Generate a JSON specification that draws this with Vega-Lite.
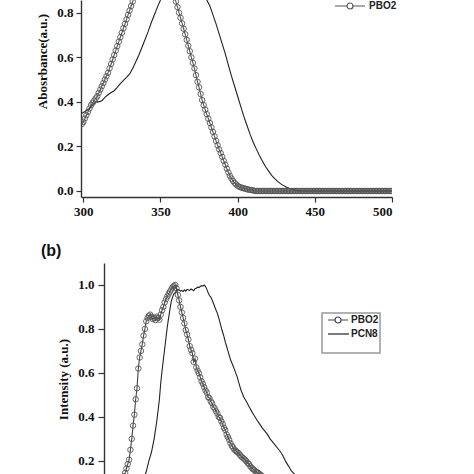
{
  "$schema": "https://vega.github.io/schema/vega-lite/v6.json",
  "background": "white",
  "padding": {"left": 36, "top": 0, "right": 5, "bottom": 0},
  "bounds": "flush",
  "spacing": 66,
  "config": {
    "view": {"stroke": null},
    "axis": {
      "labelFont": "Liberation Serif", "labelFontWeight": "bold", "labelFontSize": 13, "labelColor": "#111",
      "titleFont": "Liberation Serif", "titleFontWeight": "bold", "titleFontSize": 13, "titleColor": "#111",
      "domainColor": "#333", "domainWidth": 1.4, "tickColor": "#333", "tickWidth": 1.2, "grid": false
    }
  },
  "resolve": {"scale": {"color": "independent"}},
  "datasets": {
    "abs": [
      {"wl":299,"val":0.30,"sample":"PBO2"},{"wl":300,"val":0.31,"sample":"PBO2"},{"wl":301,"val":0.325,"sample":"PBO2"},{"wl":302,"val":0.34,"sample":"PBO2"},{"wl":303,"val":0.355,"sample":"PBO2"},{"wl":304,"val":0.37,"sample":"PBO2"},{"wl":305,"val":0.385,"sample":"PBO2"},{"wl":306,"val":0.395,"sample":"PBO2"},{"wl":307,"val":0.405,"sample":"PBO2"},{"wl":308,"val":0.415,"sample":"PBO2"},{"wl":309,"val":0.425,"sample":"PBO2"},{"wl":310,"val":0.44,"sample":"PBO2"},{"wl":311,"val":0.455,"sample":"PBO2"},{"wl":312,"val":0.47,"sample":"PBO2"},{"wl":313,"val":0.485,"sample":"PBO2"},{"wl":314,"val":0.50,"sample":"PBO2"},{"wl":315,"val":0.515,"sample":"PBO2"},{"wl":316,"val":0.53,"sample":"PBO2"},{"wl":317,"val":0.55,"sample":"PBO2"},{"wl":318,"val":0.57,"sample":"PBO2"},{"wl":319,"val":0.59,"sample":"PBO2"},{"wl":320,"val":0.61,"sample":"PBO2"},{"wl":321,"val":0.63,"sample":"PBO2"},{"wl":322,"val":0.65,"sample":"PBO2"},{"wl":323,"val":0.67,"sample":"PBO2"},{"wl":324,"val":0.69,"sample":"PBO2"},{"wl":325,"val":0.71,"sample":"PBO2"},{"wl":326,"val":0.73,"sample":"PBO2"},{"wl":327,"val":0.75,"sample":"PBO2"},{"wl":328,"val":0.77,"sample":"PBO2"},{"wl":329,"val":0.79,"sample":"PBO2"},{"wl":330,"val":0.81,"sample":"PBO2"},{"wl":331,"val":0.83,"sample":"PBO2"},{"wl":332,"val":0.85,"sample":"PBO2"},{"wl":333,"val":0.87,"sample":"PBO2"},{"wl":334,"val":0.89,"sample":"PBO2"},{"wl":335,"val":0.905,"sample":"PBO2"},{"wl":336,"val":0.92,"sample":"PBO2"},{"wl":337,"val":0.935,"sample":"PBO2"},{"wl":338,"val":0.95,"sample":"PBO2"},{"wl":339,"val":0.96,"sample":"PBO2"},{"wl":340,"val":0.97,"sample":"PBO2"},{"wl":341,"val":0.98,"sample":"PBO2"},{"wl":342,"val":0.987,"sample":"PBO2"},{"wl":343,"val":0.993,"sample":"PBO2"},{"wl":344,"val":0.997,"sample":"PBO2"},{"wl":345,"val":1.0,"sample":"PBO2"},{"wl":346,"val":1.0,"sample":"PBO2"},{"wl":347,"val":0.998,"sample":"PBO2"},{"wl":348,"val":0.995,"sample":"PBO2"},{"wl":349,"val":0.99,"sample":"PBO2"},{"wl":350,"val":0.982,"sample":"PBO2"},{"wl":351,"val":0.972,"sample":"PBO2"},{"wl":352,"val":0.96,"sample":"PBO2"},{"wl":353,"val":0.948,"sample":"PBO2"},{"wl":354,"val":0.94,"sample":"PBO2"},{"wl":355,"val":0.93,"sample":"PBO2"},{"wl":356,"val":0.915,"sample":"PBO2"},{"wl":357,"val":0.90,"sample":"PBO2"},{"wl":358,"val":0.885,"sample":"PBO2"},{"wl":359,"val":0.87,"sample":"PBO2"},{"wl":360,"val":0.85,"sample":"PBO2"},{"wl":361,"val":0.825,"sample":"PBO2"},{"wl":362,"val":0.80,"sample":"PBO2"},{"wl":363,"val":0.777,"sample":"PBO2"},{"wl":364,"val":0.752,"sample":"PBO2"},{"wl":365,"val":0.728,"sample":"PBO2"},{"wl":366,"val":0.703,"sample":"PBO2"},{"wl":367,"val":0.678,"sample":"PBO2"},{"wl":368,"val":0.652,"sample":"PBO2"},{"wl":369,"val":0.627,"sample":"PBO2"},{"wl":370,"val":0.60,"sample":"PBO2"},{"wl":371,"val":0.575,"sample":"PBO2"},{"wl":372,"val":0.55,"sample":"PBO2"},{"wl":373,"val":0.52,"sample":"PBO2"},{"wl":374,"val":0.49,"sample":"PBO2"},{"wl":375,"val":0.465,"sample":"PBO2"},{"wl":376,"val":0.435,"sample":"PBO2"},{"wl":377,"val":0.408,"sample":"PBO2"},{"wl":378,"val":0.385,"sample":"PBO2"},{"wl":379,"val":0.365,"sample":"PBO2"},{"wl":380,"val":0.345,"sample":"PBO2"},{"wl":381,"val":0.325,"sample":"PBO2"},{"wl":382,"val":0.305,"sample":"PBO2"},{"wl":383,"val":0.285,"sample":"PBO2"},{"wl":384,"val":0.265,"sample":"PBO2"},{"wl":385,"val":0.245,"sample":"PBO2"},{"wl":386,"val":0.225,"sample":"PBO2"},{"wl":387,"val":0.205,"sample":"PBO2"},{"wl":388,"val":0.187,"sample":"PBO2"},{"wl":389,"val":0.17,"sample":"PBO2"},{"wl":390,"val":0.153,"sample":"PBO2"},{"wl":391,"val":0.135,"sample":"PBO2"},{"wl":392,"val":0.118,"sample":"PBO2"},{"wl":393,"val":0.10,"sample":"PBO2"},{"wl":394,"val":0.083,"sample":"PBO2"},{"wl":395,"val":0.068,"sample":"PBO2"},{"wl":396,"val":0.056,"sample":"PBO2"},{"wl":397,"val":0.045,"sample":"PBO2"},{"wl":398,"val":0.036,"sample":"PBO2"},{"wl":399,"val":0.029,"sample":"PBO2"},{"wl":400,"val":0.023,"sample":"PBO2"},{"wl":401,"val":0.019,"sample":"PBO2"},{"wl":402,"val":0.016,"sample":"PBO2"},{"wl":403,"val":0.014,"sample":"PBO2"},{"wl":404,"val":0.012,"sample":"PBO2"},{"wl":405,"val":0.010,"sample":"PBO2"},{"wl":406,"val":0.008,"sample":"PBO2"},{"wl":407,"val":0.006,"sample":"PBO2"},{"wl":408,"val":0.005,"sample":"PBO2"},{"wl":409,"val":0.004,"sample":"PBO2"},{"wl":410,"val":0.003,"sample":"PBO2"},
      {"wl":411,"val":0,"sample":"PBO2"},{"wl":412,"val":0,"sample":"PBO2"},{"wl":413,"val":0,"sample":"PBO2"},{"wl":414,"val":0,"sample":"PBO2"},{"wl":415,"val":0,"sample":"PBO2"},{"wl":416,"val":0,"sample":"PBO2"},{"wl":417,"val":0,"sample":"PBO2"},{"wl":418,"val":0,"sample":"PBO2"},{"wl":419,"val":0,"sample":"PBO2"},{"wl":420,"val":0,"sample":"PBO2"},{"wl":421,"val":0,"sample":"PBO2"},{"wl":422,"val":0,"sample":"PBO2"},{"wl":423,"val":0,"sample":"PBO2"},{"wl":424,"val":0,"sample":"PBO2"},{"wl":425,"val":0,"sample":"PBO2"},{"wl":426,"val":0,"sample":"PBO2"},{"wl":427,"val":0,"sample":"PBO2"},{"wl":428,"val":0,"sample":"PBO2"},{"wl":429,"val":0,"sample":"PBO2"},{"wl":430,"val":0,"sample":"PBO2"},{"wl":431,"val":0,"sample":"PBO2"},{"wl":432,"val":0,"sample":"PBO2"},{"wl":433,"val":0,"sample":"PBO2"},{"wl":434,"val":0,"sample":"PBO2"},{"wl":435,"val":0,"sample":"PBO2"},{"wl":436,"val":0,"sample":"PBO2"},{"wl":437,"val":0,"sample":"PBO2"},{"wl":438,"val":0,"sample":"PBO2"},{"wl":439,"val":0,"sample":"PBO2"},{"wl":440,"val":0,"sample":"PBO2"},{"wl":441,"val":0,"sample":"PBO2"},{"wl":442,"val":0,"sample":"PBO2"},{"wl":443,"val":0,"sample":"PBO2"},{"wl":444,"val":0,"sample":"PBO2"},{"wl":445,"val":0,"sample":"PBO2"},{"wl":446,"val":0,"sample":"PBO2"},{"wl":447,"val":0,"sample":"PBO2"},{"wl":448,"val":0,"sample":"PBO2"},{"wl":449,"val":0,"sample":"PBO2"},{"wl":450,"val":0,"sample":"PBO2"},{"wl":451,"val":0,"sample":"PBO2"},{"wl":452,"val":0,"sample":"PBO2"},{"wl":453,"val":0,"sample":"PBO2"},{"wl":454,"val":0,"sample":"PBO2"},{"wl":455,"val":0,"sample":"PBO2"},{"wl":456,"val":0,"sample":"PBO2"},{"wl":457,"val":0,"sample":"PBO2"},{"wl":458,"val":0,"sample":"PBO2"},{"wl":459,"val":0,"sample":"PBO2"},{"wl":460,"val":0,"sample":"PBO2"},{"wl":461,"val":0,"sample":"PBO2"},{"wl":462,"val":0,"sample":"PBO2"},{"wl":463,"val":0,"sample":"PBO2"},{"wl":464,"val":0,"sample":"PBO2"},{"wl":465,"val":0,"sample":"PBO2"},{"wl":466,"val":0,"sample":"PBO2"},{"wl":467,"val":0,"sample":"PBO2"},{"wl":468,"val":0,"sample":"PBO2"},{"wl":469,"val":0,"sample":"PBO2"},{"wl":470,"val":0,"sample":"PBO2"},{"wl":471,"val":0,"sample":"PBO2"},{"wl":472,"val":0,"sample":"PBO2"},{"wl":473,"val":0,"sample":"PBO2"},{"wl":474,"val":0,"sample":"PBO2"},{"wl":475,"val":0,"sample":"PBO2"},{"wl":476,"val":0,"sample":"PBO2"},{"wl":477,"val":0,"sample":"PBO2"},{"wl":478,"val":0,"sample":"PBO2"},{"wl":479,"val":0,"sample":"PBO2"},{"wl":480,"val":0,"sample":"PBO2"},{"wl":481,"val":0,"sample":"PBO2"},{"wl":482,"val":0,"sample":"PBO2"},{"wl":483,"val":0,"sample":"PBO2"},{"wl":484,"val":0,"sample":"PBO2"},{"wl":485,"val":0,"sample":"PBO2"},{"wl":486,"val":0,"sample":"PBO2"},{"wl":487,"val":0,"sample":"PBO2"},{"wl":488,"val":0,"sample":"PBO2"},{"wl":489,"val":0,"sample":"PBO2"},{"wl":490,"val":0,"sample":"PBO2"},{"wl":491,"val":0,"sample":"PBO2"},{"wl":492,"val":0,"sample":"PBO2"},{"wl":493,"val":0,"sample":"PBO2"},{"wl":494,"val":0,"sample":"PBO2"},{"wl":495,"val":0,"sample":"PBO2"},{"wl":496,"val":0,"sample":"PBO2"},{"wl":497,"val":0,"sample":"PBO2"},{"wl":498,"val":0,"sample":"PBO2"},{"wl":499,"val":0,"sample":"PBO2"},{"wl":500,"val":0,"sample":"PBO2"},
      {"wl":299,"val":0.35,"sample":"PCN8"},{"wl":300,"val":0.352,"sample":"PCN8"},{"wl":302,"val":0.36,"sample":"PCN8"},{"wl":304,"val":0.37,"sample":"PCN8"},{"wl":306,"val":0.385,"sample":"PCN8"},{"wl":308,"val":0.40,"sample":"PCN8"},{"wl":310,"val":0.40,"sample":"PCN8"},{"wl":312,"val":0.405,"sample":"PCN8"},{"wl":314,"val":0.42,"sample":"PCN8"},{"wl":316,"val":0.432,"sample":"PCN8"},{"wl":318,"val":0.442,"sample":"PCN8"},{"wl":320,"val":0.45,"sample":"PCN8"},{"wl":322,"val":0.465,"sample":"PCN8"},{"wl":324,"val":0.482,"sample":"PCN8"},{"wl":326,"val":0.496,"sample":"PCN8"},{"wl":328,"val":0.51,"sample":"PCN8"},{"wl":330,"val":0.525,"sample":"PCN8"},{"wl":332,"val":0.55,"sample":"PCN8"},{"wl":334,"val":0.58,"sample":"PCN8"},{"wl":336,"val":0.61,"sample":"PCN8"},{"wl":338,"val":0.645,"sample":"PCN8"},{"wl":340,"val":0.68,"sample":"PCN8"},{"wl":342,"val":0.715,"sample":"PCN8"},{"wl":344,"val":0.755,"sample":"PCN8"},{"wl":346,"val":0.79,"sample":"PCN8"},{"wl":348,"val":0.825,"sample":"PCN8"},{"wl":350,"val":0.857,"sample":"PCN8"},{"wl":352,"val":0.89,"sample":"PCN8"},{"wl":354,"val":0.92,"sample":"PCN8"},{"wl":356,"val":0.945,"sample":"PCN8"},{"wl":358,"val":0.965,"sample":"PCN8"},{"wl":360,"val":0.98,"sample":"PCN8"},{"wl":362,"val":0.99,"sample":"PCN8"},{"wl":364,"val":0.997,"sample":"PCN8"},{"wl":366,"val":1.0,"sample":"PCN8"},{"wl":368,"val":0.997,"sample":"PCN8"},{"wl":370,"val":0.99,"sample":"PCN8"},{"wl":372,"val":0.975,"sample":"PCN8"},{"wl":374,"val":0.955,"sample":"PCN8"},{"wl":376,"val":0.93,"sample":"PCN8"},{"wl":378,"val":0.895,"sample":"PCN8"},{"wl":380,"val":0.857,"sample":"PCN8"},{"wl":382,"val":0.83,"sample":"PCN8"},{"wl":384,"val":0.79,"sample":"PCN8"},{"wl":386,"val":0.75,"sample":"PCN8"},{"wl":388,"val":0.705,"sample":"PCN8"},{"wl":390,"val":0.66,"sample":"PCN8"},{"wl":392,"val":0.615,"sample":"PCN8"},{"wl":394,"val":0.565,"sample":"PCN8"},{"wl":396,"val":0.515,"sample":"PCN8"},{"wl":398,"val":0.47,"sample":"PCN8"},{"wl":400,"val":0.425,"sample":"PCN8"},{"wl":402,"val":0.38,"sample":"PCN8"},{"wl":404,"val":0.335,"sample":"PCN8"},{"wl":406,"val":0.295,"sample":"PCN8"},{"wl":408,"val":0.255,"sample":"PCN8"},{"wl":410,"val":0.22,"sample":"PCN8"},{"wl":412,"val":0.19,"sample":"PCN8"},{"wl":414,"val":0.16,"sample":"PCN8"},{"wl":416,"val":0.135,"sample":"PCN8"},{"wl":418,"val":0.11,"sample":"PCN8"},{"wl":420,"val":0.09,"sample":"PCN8"},{"wl":422,"val":0.07,"sample":"PCN8"},{"wl":424,"val":0.055,"sample":"PCN8"},{"wl":426,"val":0.042,"sample":"PCN8"},{"wl":428,"val":0.032,"sample":"PCN8"},{"wl":430,"val":0.023,"sample":"PCN8"},{"wl":432,"val":0.016,"sample":"PCN8"},{"wl":434,"val":0.01,"sample":"PCN8"},{"wl":436,"val":0.006,"sample":"PCN8"},{"wl":438,"val":0.003,"sample":"PCN8"},{"wl":440,"val":0,"sample":"PCN8"},{"wl":450,"val":0,"sample":"PCN8"},{"wl":460,"val":0,"sample":"PCN8"},{"wl":470,"val":0,"sample":"PCN8"},{"wl":480,"val":0,"sample":"PCN8"},{"wl":490,"val":0,"sample":"PCN8"},{"wl":500,"val":0,"sample":"PCN8"}
    ],
    "pl": [
      {"wl":392,"val":0.09,"sample":"PBO2"},{"wl":393,"val":0.10,"sample":"PBO2"},{"wl":394,"val":0.115,"sample":"PBO2"},{"wl":395,"val":0.13,"sample":"PBO2"},{"wl":396,"val":0.145,"sample":"PBO2"},{"wl":397,"val":0.165,"sample":"PBO2"},{"wl":398,"val":0.185,"sample":"PBO2"},{"wl":399,"val":0.205,"sample":"PBO2"},{"wl":400,"val":0.25,"sample":"PBO2"},{"wl":401,"val":0.30,"sample":"PBO2"},{"wl":402,"val":0.36,"sample":"PBO2"},{"wl":403,"val":0.41,"sample":"PBO2"},{"wl":404,"val":0.48,"sample":"PBO2"},{"wl":405,"val":0.53,"sample":"PBO2"},{"wl":406,"val":0.62,"sample":"PBO2"},{"wl":407,"val":0.67,"sample":"PBO2"},{"wl":408,"val":0.70,"sample":"PBO2"},{"wl":409,"val":0.73,"sample":"PBO2"},{"wl":410,"val":0.77,"sample":"PBO2"},{"wl":411,"val":0.80,"sample":"PBO2"},{"wl":412,"val":0.835,"sample":"PBO2"},{"wl":413,"val":0.85,"sample":"PBO2"},{"wl":414,"val":0.86,"sample":"PBO2"},{"wl":415,"val":0.865,"sample":"PBO2"},{"wl":416,"val":0.855,"sample":"PBO2"},{"wl":417,"val":0.845,"sample":"PBO2"},{"wl":418,"val":0.85,"sample":"PBO2"},{"wl":419,"val":0.84,"sample":"PBO2"},{"wl":420,"val":0.856,"sample":"PBO2"},{"wl":421,"val":0.85,"sample":"PBO2"},{"wl":422,"val":0.842,"sample":"PBO2"},{"wl":423,"val":0.865,"sample":"PBO2"},{"wl":424,"val":0.885,"sample":"PBO2"},{"wl":425,"val":0.90,"sample":"PBO2"},{"wl":426,"val":0.92,"sample":"PBO2"},{"wl":427,"val":0.935,"sample":"PBO2"},{"wl":428,"val":0.948,"sample":"PBO2"},{"wl":429,"val":0.96,"sample":"PBO2"},{"wl":430,"val":0.97,"sample":"PBO2"},{"wl":431,"val":0.98,"sample":"PBO2"},{"wl":432,"val":0.99,"sample":"PBO2"},{"wl":433,"val":0.995,"sample":"PBO2"},{"wl":434,"val":1.0,"sample":"PBO2"},{"wl":435,"val":0.985,"sample":"PBO2"},{"wl":436,"val":0.955,"sample":"PBO2"},{"wl":437,"val":0.93,"sample":"PBO2"},{"wl":438,"val":0.90,"sample":"PBO2"},{"wl":439,"val":0.875,"sample":"PBO2"},{"wl":440,"val":0.85,"sample":"PBO2"},{"wl":441,"val":0.825,"sample":"PBO2"},{"wl":442,"val":0.795,"sample":"PBO2"},{"wl":443,"val":0.775,"sample":"PBO2"},{"wl":444,"val":0.752,"sample":"PBO2"},{"wl":445,"val":0.722,"sample":"PBO2"},{"wl":446,"val":0.705,"sample":"PBO2"},{"wl":447,"val":0.69,"sample":"PBO2"},{"wl":448,"val":0.65,"sample":"PBO2"},{"wl":449,"val":0.665,"sample":"PBO2"},{"wl":450,"val":0.625,"sample":"PBO2"},{"wl":451,"val":0.61,"sample":"PBO2"},{"wl":452,"val":0.598,"sample":"PBO2"},{"wl":453,"val":0.58,"sample":"PBO2"},{"wl":454,"val":0.562,"sample":"PBO2"},{"wl":455,"val":0.55,"sample":"PBO2"},{"wl":456,"val":0.535,"sample":"PBO2"},{"wl":457,"val":0.52,"sample":"PBO2"},{"wl":458,"val":0.51,"sample":"PBO2"},{"wl":459,"val":0.49,"sample":"PBO2"},{"wl":460,"val":0.485,"sample":"PBO2"},{"wl":461,"val":0.47,"sample":"PBO2"},{"wl":462,"val":0.462,"sample":"PBO2"},{"wl":463,"val":0.445,"sample":"PBO2"},{"wl":464,"val":0.438,"sample":"PBO2"},{"wl":465,"val":0.425,"sample":"PBO2"},{"wl":466,"val":0.415,"sample":"PBO2"},{"wl":467,"val":0.40,"sample":"PBO2"},{"wl":468,"val":0.395,"sample":"PBO2"},{"wl":469,"val":0.38,"sample":"PBO2"},{"wl":470,"val":0.368,"sample":"PBO2"},{"wl":471,"val":0.35,"sample":"PBO2"},{"wl":472,"val":0.34,"sample":"PBO2"},{"wl":473,"val":0.32,"sample":"PBO2"},{"wl":474,"val":0.308,"sample":"PBO2"},{"wl":475,"val":0.295,"sample":"PBO2"},{"wl":476,"val":0.28,"sample":"PBO2"},{"wl":477,"val":0.268,"sample":"PBO2"},{"wl":478,"val":0.26,"sample":"PBO2"},{"wl":479,"val":0.25,"sample":"PBO2"},{"wl":480,"val":0.245,"sample":"PBO2"},{"wl":481,"val":0.24,"sample":"PBO2"},{"wl":482,"val":0.235,"sample":"PBO2"},{"wl":483,"val":0.228,"sample":"PBO2"},{"wl":484,"val":0.22,"sample":"PBO2"},{"wl":485,"val":0.215,"sample":"PBO2"},{"wl":486,"val":0.21,"sample":"PBO2"},{"wl":487,"val":0.205,"sample":"PBO2"},{"wl":488,"val":0.198,"sample":"PBO2"},{"wl":489,"val":0.19,"sample":"PBO2"},{"wl":490,"val":0.185,"sample":"PBO2"},{"wl":491,"val":0.175,"sample":"PBO2"},{"wl":492,"val":0.168,"sample":"PBO2"},{"wl":493,"val":0.162,"sample":"PBO2"},{"wl":494,"val":0.158,"sample":"PBO2"},{"wl":495,"val":0.152,"sample":"PBO2"},{"wl":496,"val":0.148,"sample":"PBO2"},{"wl":497,"val":0.145,"sample":"PBO2"},{"wl":498,"val":0.14,"sample":"PBO2"},{"wl":499,"val":0.135,"sample":"PBO2"},{"wl":500,"val":0.13,"sample":"PBO2"},{"wl":502,"val":0.12,"sample":"PBO2"},{"wl":504,"val":0.11,"sample":"PBO2"},
      {"wl":405,"val":0.06,"sample":"PCN8"},{"wl":408,"val":0.09,"sample":"PCN8"},{"wl":410,"val":0.12,"sample":"PCN8"},{"wl":412,"val":0.15,"sample":"PCN8"},{"wl":414,"val":0.20,"sample":"PCN8"},{"wl":416,"val":0.24,"sample":"PCN8"},{"wl":418,"val":0.30,"sample":"PCN8"},{"wl":420,"val":0.38,"sample":"PCN8"},{"wl":422,"val":0.48,"sample":"PCN8"},{"wl":423,"val":0.553,"sample":"PCN8"},{"wl":424,"val":0.61,"sample":"PCN8"},{"wl":425,"val":0.66,"sample":"PCN8"},{"wl":426,"val":0.71,"sample":"PCN8"},{"wl":427,"val":0.76,"sample":"PCN8"},{"wl":428,"val":0.81,"sample":"PCN8"},{"wl":429,"val":0.85,"sample":"PCN8"},{"wl":430,"val":0.89,"sample":"PCN8"},{"wl":431,"val":0.925,"sample":"PCN8"},{"wl":432,"val":0.945,"sample":"PCN8"},{"wl":433,"val":0.96,"sample":"PCN8"},{"wl":434,"val":0.965,"sample":"PCN8"},{"wl":435,"val":0.975,"sample":"PCN8"},{"wl":436,"val":0.98,"sample":"PCN8"},{"wl":437,"val":0.977,"sample":"PCN8"},{"wl":438,"val":0.972,"sample":"PCN8"},{"wl":439,"val":0.975,"sample":"PCN8"},{"wl":440,"val":0.97,"sample":"PCN8"},{"wl":441,"val":0.978,"sample":"PCN8"},{"wl":442,"val":0.972,"sample":"PCN8"},{"wl":443,"val":0.98,"sample":"PCN8"},{"wl":444,"val":0.977,"sample":"PCN8"},{"wl":445,"val":0.975,"sample":"PCN8"},{"wl":446,"val":0.982,"sample":"PCN8"},{"wl":447,"val":0.978,"sample":"PCN8"},{"wl":448,"val":0.974,"sample":"PCN8"},{"wl":449,"val":0.983,"sample":"PCN8"},{"wl":450,"val":0.985,"sample":"PCN8"},{"wl":451,"val":0.99,"sample":"PCN8"},{"wl":452,"val":0.988,"sample":"PCN8"},{"wl":453,"val":0.993,"sample":"PCN8"},{"wl":454,"val":0.997,"sample":"PCN8"},{"wl":455,"val":0.995,"sample":"PCN8"},{"wl":456,"val":1.0,"sample":"PCN8"},{"wl":457,"val":0.993,"sample":"PCN8"},{"wl":458,"val":0.98,"sample":"PCN8"},{"wl":459,"val":0.965,"sample":"PCN8"},{"wl":460,"val":0.952,"sample":"PCN8"},{"wl":461,"val":0.945,"sample":"PCN8"},{"wl":462,"val":0.932,"sample":"PCN8"},{"wl":463,"val":0.917,"sample":"PCN8"},{"wl":464,"val":0.90,"sample":"PCN8"},{"wl":465,"val":0.885,"sample":"PCN8"},{"wl":466,"val":0.871,"sample":"PCN8"},{"wl":467,"val":0.85,"sample":"PCN8"},{"wl":468,"val":0.83,"sample":"PCN8"},{"wl":469,"val":0.805,"sample":"PCN8"},{"wl":470,"val":0.785,"sample":"PCN8"},{"wl":471,"val":0.765,"sample":"PCN8"},{"wl":472,"val":0.74,"sample":"PCN8"},{"wl":473,"val":0.72,"sample":"PCN8"},{"wl":474,"val":0.70,"sample":"PCN8"},{"wl":475,"val":0.68,"sample":"PCN8"},{"wl":476,"val":0.66,"sample":"PCN8"},{"wl":477,"val":0.645,"sample":"PCN8"},{"wl":478,"val":0.63,"sample":"PCN8"},{"wl":479,"val":0.615,"sample":"PCN8"},{"wl":480,"val":0.598,"sample":"PCN8"},{"wl":481,"val":0.583,"sample":"PCN8"},{"wl":482,"val":0.56,"sample":"PCN8"},{"wl":483,"val":0.54,"sample":"PCN8"},{"wl":484,"val":0.52,"sample":"PCN8"},{"wl":485,"val":0.505,"sample":"PCN8"},{"wl":486,"val":0.49,"sample":"PCN8"},{"wl":488,"val":0.47,"sample":"PCN8"},{"wl":490,"val":0.447,"sample":"PCN8"},{"wl":492,"val":0.425,"sample":"PCN8"},{"wl":494,"val":0.405,"sample":"PCN8"},{"wl":496,"val":0.386,"sample":"PCN8"},{"wl":498,"val":0.368,"sample":"PCN8"},{"wl":500,"val":0.35,"sample":"PCN8"},{"wl":502,"val":0.335,"sample":"PCN8"},{"wl":504,"val":0.32,"sample":"PCN8"},{"wl":506,"val":0.30,"sample":"PCN8"},{"wl":508,"val":0.285,"sample":"PCN8"},{"wl":510,"val":0.27,"sample":"PCN8"},{"wl":512,"val":0.255,"sample":"PCN8"},{"wl":514,"val":0.24,"sample":"PCN8"},{"wl":516,"val":0.22,"sample":"PCN8"},{"wl":518,"val":0.195,"sample":"PCN8"},{"wl":520,"val":0.176,"sample":"PCN8"},{"wl":522,"val":0.155,"sample":"PCN8"},{"wl":524,"val":0.143,"sample":"PCN8"},{"wl":526,"val":0.13,"sample":"PCN8"},{"wl":528,"val":0.12,"sample":"PCN8"}
    ]
  },
  "vconcat": [
    {
      "width": 311,
      "height": 197,
      "data": {"name": "abs"},
      "layer": [
        {
          "mark": {"type": "line", "clip": true, "strokeWidth": 1.1},
          "encoding": {
            "x": {"field": "wl", "type": "quantitative",
              "scale": {"domain": [298.5, 500], "nice": false, "zero": false},
              "axis": {"title": null, "values": [300,325,350,375,400,425,450,475,500],
                "labelExpr": "datum.value % 50 == 0 ? datum.label : ''",
                "tickSize": {"condition": {"test": "datum.value % 50 != 0", "value": 3}, "value": 5},
                "labelPadding": 3}},
            "y": {"field": "val", "type": "quantitative",
              "scale": {"domain": [-0.027, 0.857], "nice": false, "zero": false},
              "axis": {"title": "Abosrbance(a.u.)", "values": [0,0.1,0.2,0.3,0.4,0.5,0.6,0.7,0.8], "format": ".1f",
                "labelExpr": "round(datum.value*10) % 2 == 1 ? '' : datum.label",
                "tickSize": {"condition": {"test": "round(datum.value*10) % 2 == 1", "value": 3}, "value": 5},
                "labelPadding": 3, "titleX": -35, "titleY": 61, "titleBaseline": "alphabetic", "titleAlign": "center", "titleAngle": 270}},
            "color": {"field": "sample", "type": "nominal",
              "scale": {"domain": ["PCN8", "PBO2"], "range": ["#222222", "#555555"]},
              "legend": {"orient": "none", "legendX": 253, "legendY": 0, "values": ["PBO2"], "title": null,
                "labelFont": "Liberation Sans", "labelFontSize": 10, "labelFontWeight": "bold", "labelColor": "#222",
                "symbolSize": 100, "labelOffset": 23, "padding": 0, "symbolStrokeWidth": 1.2,
                "symbolType": "M-1,0H1.4M2.6,0H5M1.4,0A0.6,0.6 0 1,0 2.6,0A0.6,0.6 0 1,0 1.4,0"}}
          }
        },
        {
          "transform": [{"filter": "datum.sample == 'PBO2'"}],
          "mark": {"type": "point", "shape": "circle", "filled": false, "size": 30, "strokeWidth": 0.9, "color": "#555555", "opacity": 1, "clip": true},
          "encoding": {
            "x": {"field": "wl", "type": "quantitative"},
            "y": {"field": "val", "type": "quantitative"}
          }
        }
      ]
    },
    {
      "width": 311,
      "height": 211,
      "data": {"name": "pl"},
      "title": {"text": "(b)", "anchor": "start", "frame": "group", "font": "Liberation Sans", "fontSize": 16, "fontWeight": "bold", "color": "#111", "dx": -40, "offset": -9, "baseline": "alphabetic"},
      "layer": [
        {
          "mark": {"type": "line", "clip": true, "strokeWidth": 1.1},
          "encoding": {
            "x": {"field": "wl", "type": "quantitative",
              "scale": {"domain": [362.5, 598.5], "nice": false, "zero": false},
              "axis": null},
            "y": {"field": "val", "type": "quantitative",
              "scale": {"domain": [0.14, 1.1], "nice": false, "zero": false},
              "axis": {"title": "Intensity (a.u.)", "values": [0.2,0.3,0.4,0.5,0.6,0.7,0.8,0.9,1.0,1.1], "format": ".1f",
                "offset": -23,
                "labelExpr": "round(datum.value*10) % 2 == 1 ? '' : datum.label",
                "tickSize": {"condition": {"test": "round(datum.value*10) % 2 == 1", "value": 3}, "value": 6},
                "labelPadding": 4, "titleX": -37, "titleY": 116, "titleBaseline": "alphabetic", "titleAlign": "center", "titleAngle": 270}},
            "color": {"field": "sample", "type": "nominal",
              "scale": {"domain": ["PBO2", "PCN8"], "range": ["#444444", "#222222"]},
              "legend": {"orient": "none", "legendX": 241, "legendY": 50, "values": ["PBO2", "PCN8", "~"], "title": null,
                "labelFont": "Liberation Sans", "labelFontSize": 10, "labelFontWeight": "bold", "labelColor": "#222",
                "labelExpr": "datum.value == '~' ? '' : datum.label",
                "symbolSize": 100, "labelOffset": 16, "padding": 1, "rowPadding": 2, "symbolStrokeWidth": 1.2,
                "strokeColor": "#999999", "fillColor": "white",
                "encode": {
                  "legend": {"update": {"strokeWidth": {"value": 1.5}}},
                  "symbols": {"update": {"shape": {"signal": "datum.value == 'PBO2' ? 'M-0.2,0H1.2M2.4,0H3.8M1.2,0A0.6,0.6 0 1,0 2.4,0A0.6,0.6 0 1,0 1.2,0' : (datum.value == 'PCN8' ? 'M-0.2,0H4' : 'M0,0')"}}}}}}
          }
        },
        {
          "transform": [{"filter": "datum.sample == 'PBO2'"}],
          "mark": {"type": "point", "shape": "circle", "filled": false, "size": 30, "strokeWidth": 0.9, "color": "#555555", "opacity": 1, "clip": true},
          "encoding": {
            "x": {"field": "wl", "type": "quantitative"},
            "y": {"field": "val", "type": "quantitative"}
          }
        }
      ]
    }
  ]
}
